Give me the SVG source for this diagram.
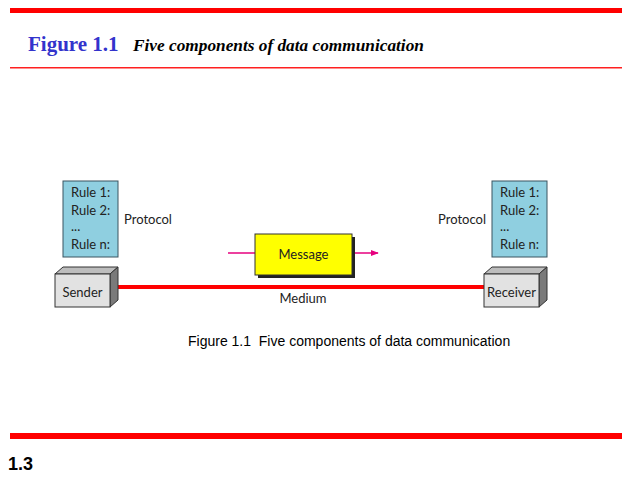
<svg xmlns="http://www.w3.org/2000/svg" width="638" height="478" viewBox="0 0 638 478">
<defs>
<style>
.lbl{font-family:Lato,"Open Sans",sans-serif;font-size:13px;fill:#222}
.proto{fill:#8fcfe0;stroke:#3a5560;stroke-width:1}
.front{fill:#e2e2e2;stroke:#333;stroke-width:1}
.top{fill:#bdbdbd;stroke:#333;stroke-width:1}
.side{fill:#7a7a7a;stroke:#333;stroke-width:1}
.msg{stroke:#e6007e;stroke-width:1.5;fill:none}
</style>
<marker id="ah" viewBox="0 0 10 10" refX="9" refY="5" markerWidth="8" markerHeight="8" markerUnits="userSpaceOnUse" orient="auto">
<path d="M0,1 L10,5 L0,9 Z" fill="#e6007e"/>
</marker>
</defs>
<rect width="638" height="478" fill="#fff"/>
<rect x="10" y="8" width="612" height="5" fill="#ff0000"/>
<rect x="10" y="67" width="612" height="1.5" fill="#ff2020"/>
<rect x="10" y="433" width="612" height="6" fill="#ff0000"/>
<text x="28" y="51" font-family="Liberation Serif,serif" font-weight="bold" font-size="21" fill="#3333cc">Figure 1.1</text>
<text x="133" y="51" font-family="Liberation Serif,serif" font-weight="bold" font-style="italic" font-size="17.3" fill="#000">Five components of data communication</text>
<text x="8" y="470" font-family="Liberation Sans,Arial,sans-serif" font-weight="bold" font-size="18" fill="#000">1.3</text>

<g id="connectors">
<line x1="110" y1="287" x2="484" y2="287" stroke="#ff0000" stroke-width="4"/>
<line class="msg" x1="228" y1="253" x2="255" y2="253"/>
<line class="msg" x1="355" y1="253" x2="378" y2="253" marker-end="url(#ah)"/>
</g>

<g id="sender-protocol">
<rect class="proto" x="63" y="181" width="55" height="76"/>
<text class="lbl" x="71" y="197">Rule 1:</text>
<text class="lbl" x="71" y="215">Rule 2:</text>
<text class="lbl" x="71" y="231">...</text>
<text class="lbl" x="71" y="249">Rule n:</text>
<text class="lbl" x="124" y="224">Protocol</text>
</g>

<g id="sender">
<polygon class="top" points="55,274 63,267 118,267 110,274"/>
<polygon class="side" points="110,274 118,267 118,300 110,307"/>
<rect class="front" x="55" y="274" width="55" height="33"/>
<text class="lbl" x="82.5" y="297" text-anchor="middle">Sender</text>
</g>

<g id="message">
<rect x="258" y="237" width="97" height="41" fill="#222"/>
<rect x="255" y="234" width="97" height="41" fill="#ffff00" stroke="#333" stroke-width="1"/>
<text class="lbl" x="303.5" y="259" text-anchor="middle">Message</text>
</g>

<g id="medium">
<text class="lbl" x="303" y="303" text-anchor="middle">Medium</text>
</g>

<g id="receiver-protocol">
<rect class="proto" x="492" y="181" width="55" height="76"/>
<text class="lbl" x="500" y="197">Rule 1:</text>
<text class="lbl" x="500" y="215">Rule 2:</text>
<text class="lbl" x="500" y="231">...</text>
<text class="lbl" x="500" y="249">Rule n:</text>
<text class="lbl" x="486" y="224" text-anchor="end">Protocol</text>
</g>

<g id="receiver">
<polygon class="top" points="484,274 492,267 547,267 539,274"/>
<polygon class="side" points="539,274 547,267 547,300 539,307"/>
<rect class="front" x="484" y="274" width="55" height="33"/>
<text class="lbl" x="511.5" y="297" text-anchor="middle">Receiver</text>
</g>

<text x="188" y="346" font-family="Liberation Sans,Arial,sans-serif" font-size="14" fill="#000" xml:space="preserve">Figure 1.1  Five components of data communication</text>
</svg>
